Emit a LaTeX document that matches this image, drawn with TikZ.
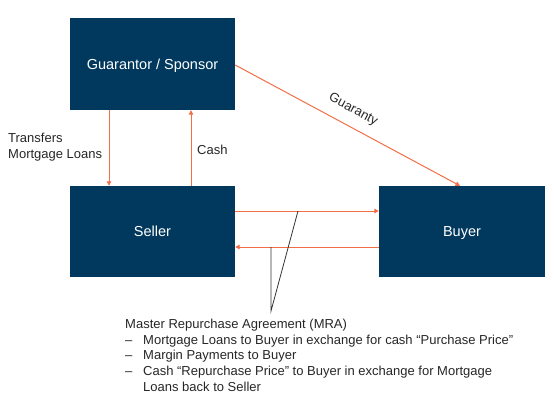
\documentclass[tikz,border=0pt]{standalone}
\usepackage{fontspec}
\setmainfont{Liberation Sans}
\usetikzlibrary{arrows.meta}
\definecolor{navy}{RGB}{0,57,93}
\definecolor{repo}{RGB}{242,110,70}
\tikzset{box/.style={rectangle, fill=navy, text=white, inner sep=0pt,
    text height=10.4pt, text depth=0pt, font=\fontsize{14.5}{17}\selectfont},
  ->-/.style={draw=repo, line width=1pt, -{Triangle[length=4.5pt,width=4.5pt]}},
  lbl/.style={inner sep=0pt, text=black!85, font=\fontsize{13}{16}\selectfont}}

\begin{document}
\begin{tikzpicture}[x=1pt, y=-1pt]
    \useasboundingbox (0,0) rectangle (554,404);
    \node[box, minimum width=165pt, minimum height=92pt] (guar) at (152.5,64) {Guarantor / Sponsor};
    \node[box, minimum width=165pt, minimum height=91pt] (seller) at (152.5,231.5) {Seller};
    \node[box, minimum width=166pt, minimum height=91pt] (buyer) at (462,231.5) {Buyer};
    \draw[->-] ([xshift=-43.5pt]guar.south) to ([xshift=-43.5pt]seller.north);
    \draw[->-] ([xshift=38.5pt]seller.north) to ([xshift=38.5pt]guar.south);
    \draw[->-] ([yshift=-1pt]guar.east) to node[lbl, sloped, above=10pt, pos=0.49]{Guaranty} ([xshift=-2pt]buyer.north);
    \draw[->-] ([yshift=20.5pt]seller.east) to ([yshift=20.5pt]buyer.west);
    \draw[->-] ([yshift=-15.5pt]buyer.west) to ([yshift=-15.5pt]seller.east);
    \node[lbl, align=left, anchor=north west] (transfers) at (8,132.5) {Transfers\\Mortgage Loans};
    \node[lbl, anchor=base west] (cash) at (197,154) {Cash};
    % MRA callout
    \coordinate (top) at (298,211);
    \coordinate (bot) at (271,247);
    \coordinate (tip) at (271,311);
    \draw[black!80, line width=0.8pt] (top) -- (tip) -- (bot);
    \node[lbl, anchor=north west, font=\fontsize{13}{15.8}\selectfont] (mra) at (125,317)
      {\begin{tabular}{@{}p{18pt}@{}l@{}}
        \multicolumn{2}{@{}l@{}}{Master Repurchase Agreement (MRA)}\\
        -- & Mortgage Loans to Buyer in exchange for cash “Purchase Price”\\
        -- & Margin Payments to Buyer\\
        -- & Cash “Repurchase Price” to Buyer in exchange for Mortgage\\
           & Loans back to Seller
      \end{tabular}};
  \end{tikzpicture}
\end{document}
